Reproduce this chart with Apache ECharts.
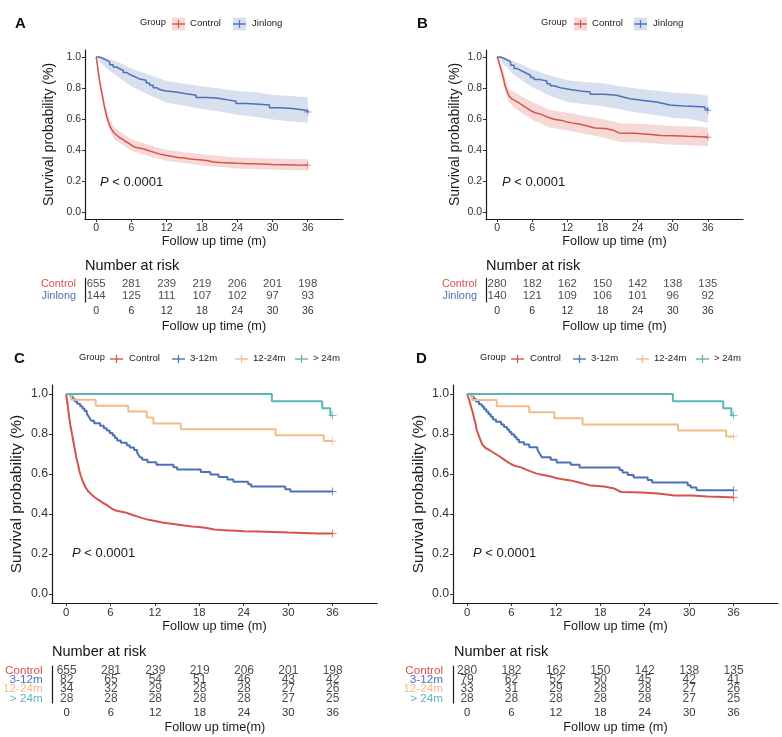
<!DOCTYPE html>
<html>
<head>
<meta charset="utf-8">
<script src="https://cdn.jsdelivr.net/npm/echarts@6.0.0/dist/echarts.min.js"></script>
<style>
html, body { margin: 0; padding: 0; background: #fff; }
#chart { width: 782px; height: 737px; }
</style>
</head>
<body>
<div id="chart"></div>
<script>
// time ticks and risk table columns
var TIMES = [0, 6, 12, 18, 24, 30, 36];
var Y_TICKS = [0, 0.2, 0.4, 0.6, 0.8, 1.0];

// A / C : control group (n = 655)
var ctrl1_t = [0, 0.2, 0.4, 0.6, 0.8, 1.0, 1.2, 1.4, 1.6, 1.8, 2.0, 2.3, 2.6, 3.0, 3.5, 4.0, 4.5, 5.0, 5.5, 6.0, 6.5, 7.0, 8.0, 9.0, 10, 11, 12, 13, 14, 15, 16, 17, 18, 19, 20, 21, 22, 23, 24, 26, 28, 30, 32, 34, 36];
var ctrl1_s = [1, 0.95, 0.89, 0.84, 0.80, 0.76, 0.72, 0.68, 0.65, 0.615, 0.59, 0.56, 0.535, 0.513, 0.495, 0.48, 0.468, 0.455, 0.445, 0.432, 0.42, 0.415, 0.408, 0.395, 0.383, 0.372, 0.365, 0.358, 0.352, 0.348, 0.342, 0.338, 0.335, 0.33, 0.323, 0.32, 0.318, 0.316, 0.314, 0.312, 0.31, 0.307, 0.305, 0.303, 0.302];
var ctrl1_band_t = [0, 0.5, 1, 1.5, 2, 3, 4, 6, 9, 12, 18, 24, 30, 36];
var ctrl1_lo = [1, 0.85, 0.73, 0.625, 0.555, 0.475, 0.445, 0.395, 0.36, 0.33, 0.30, 0.28, 0.273, 0.268];
var ctrl1_hi = [1, 0.91, 0.795, 0.70, 0.63, 0.55, 0.52, 0.47, 0.432, 0.40, 0.372, 0.352, 0.345, 0.34];

// A : Jinlong (n = 144)
var jinA_t = [0, 0.6, 1.2, 1.75, 2.3, 2.9, 3.5, 4, 4.6, 5.15, 5.7, 6.3, 6.9, 7.4, 8.5, 9.1, 9.7, 10.3, 10.8, 11.9, 13.6, 15.3, 17, 18.7, 20.4, 22.1, 23.8, 25.5, 27.8, 29.5, 31.2, 33.4, 35, 36];
var jinA_s = [1, 0.99, 0.98, 0.968, 0.95, 0.935, 0.924, 0.914, 0.9, 0.888, 0.877, 0.867, 0.858, 0.85, 0.832, 0.818, 0.802, 0.79, 0.78, 0.774, 0.763, 0.753, 0.738, 0.735, 0.725, 0.714, 0.70, 0.695, 0.69, 0.673, 0.667, 0.66, 0.653, 0.645];
var jinA_band_t = [0, 1, 2, 3, 4, 6, 9, 12, 15, 18, 21, 24, 27, 30, 33, 36];
var jinA_lo = [1, 0.955, 0.92, 0.89, 0.865, 0.81, 0.755, 0.705, 0.685, 0.665, 0.648, 0.627, 0.615, 0.597, 0.585, 0.575];
var jinA_hi = [1, 1, 0.99, 0.975, 0.962, 0.925, 0.885, 0.845, 0.828, 0.812, 0.797, 0.78, 0.772, 0.757, 0.748, 0.74];

// B / D : control group (n = 280)
var ctrl2_t = [0, 0.3, 0.5, 0.75, 0.95, 1.15, 1.3, 1.6, 1.85, 2.1, 2.5, 3.0, 3.65, 4.3, 5.0, 5.9, 6.5, 7.3, 8.0, 8.6, 9.3, 10, 11.3, 12, 12.7, 14, 15.4, 16.7, 18.5, 19.9, 20.8, 23.5, 25.8, 28, 30.3, 32.5, 34.8, 36];
var ctrl2_s = [1, 0.97, 0.94, 0.91, 0.88, 0.85, 0.82, 0.79, 0.765, 0.745, 0.73, 0.72, 0.705, 0.69, 0.672, 0.65, 0.64, 0.633, 0.622, 0.613, 0.603, 0.597, 0.588, 0.58, 0.575, 0.568, 0.555, 0.542, 0.538, 0.527, 0.51, 0.508, 0.502, 0.493, 0.492, 0.488, 0.485, 0.482];
var ctrl2_band_t = [0, 0.5, 1, 1.5, 2, 3, 4, 6, 9, 12, 15, 18, 21, 24, 27, 30, 33, 36];
var ctrl2_lo = [1, 0.91, 0.84, 0.76, 0.71, 0.67, 0.645, 0.595, 0.545, 0.525, 0.503, 0.483, 0.452, 0.45, 0.442, 0.434, 0.43, 0.424];
var ctrl2_hi = [1, 0.97, 0.92, 0.85, 0.79, 0.775, 0.75, 0.71, 0.66, 0.64, 0.62, 0.60, 0.572, 0.57, 0.563, 0.555, 0.552, 0.547];

// B : Jinlong (n = 140)
var jinB_t = [0, 0.6, 1.2, 1.75, 2.3, 2.9, 3.5, 4, 4.6, 5.15, 5.7, 6.3, 7.4, 8.5, 9.1, 9.7, 10.8, 12.5, 14.2, 15.9, 18.2, 20.4, 21.5, 22.7, 25, 27.2, 28.4, 29.5, 31.8, 34, 35.5, 36];
var jinB_s = [1, 0.99, 0.98, 0.968, 0.946, 0.925, 0.914, 0.903, 0.892, 0.882, 0.868, 0.854, 0.845, 0.828, 0.814, 0.802, 0.79, 0.78, 0.774, 0.76, 0.753, 0.742, 0.73, 0.72, 0.71, 0.70, 0.69, 0.684, 0.68, 0.677, 0.664, 0.656];
var jinB_band_t = [0, 1, 2, 3, 4, 6, 9, 12, 15, 18, 21, 24, 27, 30, 33, 36];
var jinB_lo = [1, 0.955, 0.92, 0.88, 0.855, 0.805, 0.75, 0.71, 0.695, 0.683, 0.663, 0.64, 0.625, 0.608, 0.60, 0.575];
var jinB_hi = [1, 1, 0.99, 0.97, 0.955, 0.92, 0.88, 0.85, 0.838, 0.83, 0.812, 0.795, 0.783, 0.77, 0.765, 0.75];

// C : subgroups
var m3C_t = [0, 0.6, 0.9, 1.2, 1.5, 1.9, 2.2, 2.5, 2.8, 3.0, 3.2, 3.4, 3.8, 4.6, 5.1, 5.5, 5.9, 6.3, 6.6, 6.9, 7.4, 8.2, 8.6, 9.2, 9.6, 9.8, 10.0, 10.3, 11.0, 12.2, 14.5, 15.0, 18.2, 19.5, 20.6, 21.8, 22.6, 24.6, 25.0, 29.6, 30.3, 36];
var m3C_s = [1, 0.988, 0.976, 0.963, 0.951, 0.939, 0.927, 0.915, 0.902, 0.89, 0.878, 0.866, 0.854, 0.841, 0.829, 0.817, 0.805, 0.793, 0.78, 0.768, 0.756, 0.744, 0.732, 0.72, 0.707, 0.695, 0.683, 0.671, 0.659, 0.646, 0.634, 0.622, 0.61, 0.598, 0.585, 0.573, 0.561, 0.549, 0.537, 0.524, 0.512, 0.512];
var m12C_t = [0, 0.7, 4.0, 8.4, 10.9, 11.8, 15.5, 28.3, 34.8, 36];
var m12C_s = [1, 0.971, 0.941, 0.912, 0.882, 0.853, 0.824, 0.794, 0.765, 0.765];
var m24_t = [0, 27.8, 34.6, 35.7, 36];
var m24_s = [1, 0.964, 0.929, 0.893, 0.893];

// D : subgroups
var m3D_t = [0, 0.6, 0.9, 1.2, 1.6, 2.0, 2.3, 2.6, 2.9, 3.2, 3.5, 3.9, 4.6, 5.0, 5.4, 5.7, 6.0, 6.4, 6.7, 7.0, 7.7, 8.4, 9.5, 9.7, 9.9, 10.1, 11.3, 12.1, 14.0, 15.2, 20.6, 21.0, 21.7, 22.5, 24.4, 25.0, 29.8, 30.2, 31.0, 36];
var m3D_s = [1, 0.987, 0.975, 0.962, 0.949, 0.937, 0.924, 0.911, 0.899, 0.886, 0.873, 0.861, 0.848, 0.835, 0.823, 0.81, 0.797, 0.785, 0.772, 0.759, 0.747, 0.734, 0.722, 0.709, 0.696, 0.684, 0.671, 0.658, 0.646, 0.633, 0.62, 0.608, 0.595, 0.582, 0.57, 0.557, 0.544, 0.532, 0.519, 0.519];
var m12D_t = [0, 0.7, 4.0, 8.4, 11.8, 15.6, 28.5, 35.0, 36];
var m12D_s = [1, 0.97, 0.939, 0.909, 0.879, 0.848, 0.818, 0.788, 0.788];

// number at risk
var riskA_ctrl = [655, 281, 239, 219, 206, 201, 198];
var riskA_jin = [144, 125, 111, 107, 102, 97, 93];
var riskB_ctrl = [280, 182, 162, 150, 142, 138, 135];
var riskB_jin = [140, 121, 109, 106, 101, 96, 92];
var riskC_m3 = [82, 65, 54, 51, 46, 43, 42];
var riskC_m12 = [34, 32, 29, 28, 28, 27, 26];
var riskC_m24 = [28, 28, 28, 28, 28, 27, 25];
var riskD_m3 = [79, 62, 52, 50, 45, 42, 41];
var riskD_m12 = [33, 31, 29, 28, 28, 27, 26];
var riskD_m24 = [28, 28, 28, 28, 28, 27, 25];

var RED = '#D6524B', BLUE = '#4D71B6', ORANGE = '#F2BC86', TEAL = '#5AB6B4';
var FONT = '"Liberation Sans", Arial, Helvetica, sans-serif';
var INK = '#1a1a1a';
var PLUS = 'path://M0,4.4H10V5.6H0ZM4.4,0H5.6V10H4.4Z';

var myChart = echarts.init(document.getElementById('chart'));

function pairs(t, s) {
	return t.map(function(x, i) { return [x, s[i]]; });
}

function kmLine(name, t, s, color, gi, lw, step) {
	return {
		name: name, type: 'line', step: step === false ? false : 'end',
		xAxisIndex: gi, yAxisIndex: gi,
		data: pairs(t, s), symbol: 'none', silent: true, z: 3,
		lineStyle: { color: color, width: lw }
	};
}

function censor(t, s, color, gi, size) {
	var n = t.length - 1;
	return {
		type: 'scatter', xAxisIndex: gi, yAxisIndex: gi, silent: true, z: 4,
		data: [[t[n], s[n]]], symbol: PLUS, symbolSize: size,
		itemStyle: { color: color }
	};
}

// confidence band: one polygon through the axis coordinates
function band(t, lo, hi, color, gi) {
	return {
		type: 'custom', xAxisIndex: gi, yAxisIndex: gi, silent: true, z: 1,
		data: pairs(t, hi),
		encode: { x: 0, y: 1 },
		renderItem: function(params, api) {
			if (params.dataIndex !== 0) return null;
			var top = [], bot = [];
			for (var i = 0; i < t.length; i++) {
				top.push(api.coord([t[i], hi[i]]));
				bot.push(api.coord([t[i], lo[i]]));
			}
			return {
				type: 'polygon',
				shape: { points: top.concat(bot.reverse()) },
				style: { fill: color, opacity: 0.22 }
			};
		}
	};
}

function riskSeries(rows, gi, fs) {
	var data = [];
	rows.forEach(function(r, ri) {
		r.forEach(function(n, i) { data.push([TIMES[i], ri, n]); });
	});
	return {
		type: 'scatter', xAxisIndex: gi, yAxisIndex: gi, silent: true,
		data: data, symbolSize: 0.1, itemStyle: { color: 'transparent' },
		encode: { x: 0, y: 1 },
		label: {
			show: true, position: 'inside', color: INK, fontSize: fs, fontFamily: FONT,
			formatter: function(p) { return p.value[2]; }
		}
	};
}

function xAxisOf(gi, fs, name, gap) {
	return {
		gridIndex: gi, type: 'value', min: -1.9, max: 42,
		name: name, nameLocation: 'middle', nameGap: gap,
		nameTextStyle: { fontSize: 12.7, color: INK, fontFamily: FONT },
		axisLine: { onZero: false, lineStyle: { color: INK, width: 1.2 } },
		axisTick: { customValues: TIMES, length: 3, lineStyle: { color: '#333' } },
		axisLabel: { customValues: TIMES, fontSize: fs, color: '#333', margin: 4, fontFamily: FONT },
		splitLine: { show: false }
	};
}

function yAxisOf(gi, fs, titleFs, gap) {
	return {
		gridIndex: gi, type: 'value', min: -0.045, max: 1.045,
		name: 'Survival probability (%)', nameLocation: 'middle', nameGap: gap,
		nameTextStyle: { fontSize: titleFs, color: INK, fontFamily: FONT },
		axisLine: { onZero: false, lineStyle: { color: INK, width: 1.2 } },
		axisTick: { customValues: Y_TICKS, length: 3, lineStyle: { color: '#333' } },
		axisLabel: {
			customValues: Y_TICKS, fontSize: fs, color: '#333', margin: 4, fontFamily: FONT,
			formatter: function(v) { return v.toFixed(1); }
		},
		splitLine: { show: false }
	};
}

function riskY(gi, names, colors, fs, margin) {
	return {
		gridIndex: gi, type: 'category', data: names, inverse: true,
		axisLine: { onZero: false, lineStyle: { color: INK, width: 1.2 } },
		axisTick: { length: 3, interval: 0, alignWithLabel: true, lineStyle: { color: '#333' } },
		axisLabel: {
			fontSize: fs, margin: margin, interval: 0, fontFamily: FONT,
			color: function(v, i) { return colors[i]; }
		},
		splitLine: { show: false }
	};
}

function legendGfx(y, groupX, items, box) {
	var g = [{ type: 'text', left: groupX, top: y - 6, style: { text: 'Group', fontSize: 9.3, fill: INK, fontFamily: FONT } }];
	items.forEach(function(it) {
		if (box) {
			g.push({ type: 'rect', shape: { x: it.k, y: y - 6.5, width: 13, height: 13 }, style: { fill: it.c, opacity: 0.22 } });
		}
		g.push({ type: 'line', shape: { x1: it.k, y1: y, x2: it.k + 13, y2: y }, style: { stroke: it.c, lineWidth: 1.4 } });
		g.push({ type: 'line', shape: { x1: it.k + 6.5, y1: y - 4, x2: it.k + 6.5, y2: y + 4 }, style: { stroke: it.c, lineWidth: 1.2 } });
		g.push({ type: 'text', left: it.x, top: y - 6, style: { text: it.t, fontSize: 9.6, fill: INK, fontFamily: FONT } });
	});
	return g;
}

function label(x, y, text, size, bold) {
	return { type: 'text', left: x, top: y, style: { text: text, fontSize: size, fontWeight: bold ? 'bold' : 'normal', fill: '#111', fontFamily: FONT } };
}

function pText(x, y) {
	return {
		type: 'text', left: x, top: y,
		style: {
			text: '{i|P} < 0.0001', fontSize: 13, fill: INK, fontFamily: FONT,
			rich: { i: { fontStyle: 'italic', fontSize: 13, fontFamily: FONT } }
		}
	};
}

var grids = [
	{ left: 85, top: 50, width: 258, height: 169 },
	{ left: 486, top: 50, width: 257, height: 169 },
	{ left: 52, top: 385, width: 325, height: 218 },
	{ left: 453, top: 385, width: 325, height: 218 },
	{ left: 85, top: 278, width: 258, height: 24 },
	{ left: 486, top: 278, width: 257, height: 24 },
	{ left: 52, top: 666, width: 325, height: 37 },
	{ left: 453, top: 666, width: 325, height: 37 }
];

var series = [
	band(ctrl1_band_t, ctrl1_lo, ctrl1_hi, RED, 0),
	band(jinA_band_t, jinA_lo, jinA_hi, BLUE, 0),
	band(ctrl2_band_t, ctrl2_lo, ctrl2_hi, RED, 1),
	band(jinB_band_t, jinB_lo, jinB_hi, BLUE, 1),

	kmLine('Control', ctrl1_t, ctrl1_s, RED, 0, 1.5, false),
	kmLine('Jinlong', jinA_t, jinA_s, BLUE, 0, 1.5),
	censor(ctrl1_t, ctrl1_s, RED, 0, 7),
	censor(jinA_t, jinA_s, BLUE, 0, 7),

	kmLine('Control', ctrl2_t, ctrl2_s, RED, 1, 1.5, false),
	kmLine('Jinlong', jinB_t, jinB_s, BLUE, 1, 1.5),
	censor(ctrl2_t, ctrl2_s, RED, 1, 7),
	censor(jinB_t, jinB_s, BLUE, 1, 7),

	kmLine('Control', ctrl1_t, ctrl1_s, RED, 2, 2, false),
	kmLine('3-12m', m3C_t, m3C_s, BLUE, 2, 2),
	kmLine('12-24m', m12C_t, m12C_s, ORANGE, 2, 2),
	kmLine('> 24m', m24_t, m24_s, TEAL, 2, 2),
	censor(ctrl1_t, ctrl1_s, RED, 2, 8),
	censor(m3C_t, m3C_s, BLUE, 2, 8),
	censor(m12C_t, m12C_s, ORANGE, 2, 8),
	censor(m24_t, m24_s, TEAL, 2, 8),

	kmLine('Control', ctrl2_t, ctrl2_s, RED, 3, 2, false),
	kmLine('3-12m', m3D_t, m3D_s, BLUE, 3, 2),
	kmLine('12-24m', m12D_t, m12D_s, ORANGE, 3, 2),
	kmLine('> 24m', m24_t, m24_s, TEAL, 3, 2),
	censor(ctrl2_t, ctrl2_s, RED, 3, 8),
	censor(m3D_t, m3D_s, BLUE, 3, 8),
	censor(m12D_t, m12D_s, ORANGE, 3, 8),
	censor(m24_t, m24_s, TEAL, 3, 8),

	riskSeries([riskA_ctrl, riskA_jin], 4, 11.4),
	riskSeries([riskB_ctrl, riskB_jin], 5, 11.4),
	riskSeries([riskA_ctrl, riskC_m3, riskC_m12, riskC_m24], 6, 12),
	riskSeries([riskB_ctrl, riskD_m3, riskD_m12, riskD_m24], 7, 12)
];

var graphics = [].concat(
	label(15, 16, 'A', 15, true),
	label(417, 16, 'B', 15, true),
	label(14, 351, 'C', 15, true),
	label(416, 351, 'D', 15, true),
	legendGfx(24, 140, [
		{ k: 172, x: 190, t: 'Control', c: RED },
		{ k: 233, x: 252, t: 'Jinlong', c: BLUE }
	], true),
	legendGfx(24, 541, [
		{ k: 574, x: 592, t: 'Control', c: RED },
		{ k: 634, x: 653, t: 'Jinlong', c: BLUE }
	], true),
	legendGfx(359, 79, [
		{ k: 110, x: 129, t: 'Control', c: RED },
		{ k: 172, x: 190, t: '3-12m', c: BLUE },
		{ k: 235, x: 253, t: '12-24m', c: ORANGE },
		{ k: 295, x: 313, t: '> 24m', c: TEAL }
	], false),
	legendGfx(359, 480, [
		{ k: 511, x: 530, t: 'Control', c: RED },
		{ k: 573, x: 591, t: '3-12m', c: BLUE },
		{ k: 636, x: 654, t: '12-24m', c: ORANGE },
		{ k: 696, x: 714, t: '> 24m', c: TEAL }
	], false),
	pText(100, 176),
	pText(502, 176),
	pText(72, 547),
	pText(473, 547),
	label(85, 258, 'Number at risk', 14.5, false),
	label(486, 258, 'Number at risk', 14.5, false),
	label(52, 644, 'Number at risk', 14.5, false),
	label(454, 644, 'Number at risk', 14.5, false)
);

var option = {
	backgroundColor: '#fff',
	animation: false,
	textStyle: { fontFamily: FONT },
	grid: grids,
	xAxis: [
		xAxisOf(0, 10.5, 'Follow up time (m)', 15),
		xAxisOf(1, 10.5, 'Follow up time (m)', 15),
		xAxisOf(2, 11.3, 'Follow up time (m)', 17),
		xAxisOf(3, 11.3, 'Follow up time (m)', 17),
		xAxisOf(4, 10.5, 'Follow up time (m)', 18),
		xAxisOf(5, 10.5, 'Follow up time (m)', 18),
		xAxisOf(6, 11.3, 'Follow up time(m)', 18),
		xAxisOf(7, 11.3, 'Follow up time (m)', 18)
	],
	yAxis: [
		yAxisOf(0, 10.5, 14, 29),
		yAxisOf(1, 10.5, 14, 24),
		yAxisOf(2, 12.3, 15.5, 27),
		yAxisOf(3, 12.3, 15.5, 26),
		riskY(4, ['Control', 'Jinlong'], [RED, BLUE], 10.9, 9),
		riskY(5, ['Control', 'Jinlong'], [RED, BLUE], 10.9, 9),
		riskY(6, ['Control', '3-12m', '12-24m', '> 24m'], [RED, BLUE, ORANGE, TEAL], 11.7, 10),
		riskY(7, ['Control', '3-12m', '12-24m', '> 24m'], [RED, BLUE, ORANGE, TEAL], 11.7, 10)
	],
	series: series,
	graphic: graphics
};

myChart.setOption(option);
</script>
</body>
</html>
